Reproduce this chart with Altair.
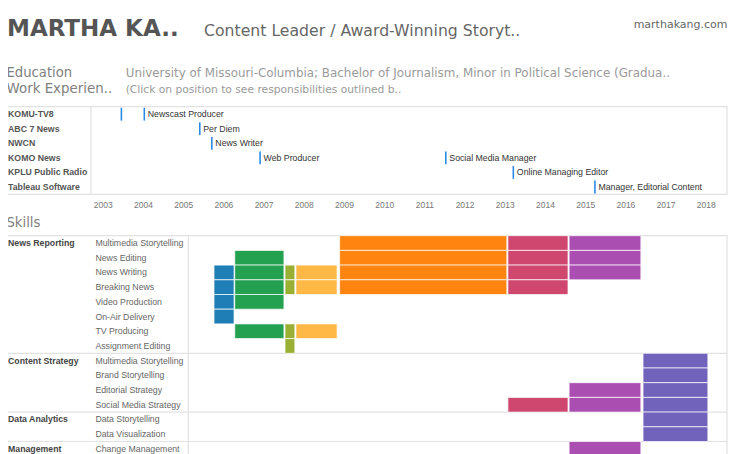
import altair as alt
import pandas as pd

# ---------------- header texts ----------------
name_text = "MARTHA KA.."
tagline_text = "Content Leader / Award-Winning Storyt.."
site_text = "marthakang.com"
education_label = "Education"
education_text = "University of Missouri-Columbia; Bachelor of Journalism, Minor in Political Science (Gradua.."
work_label = "Work Experien.."
work_text = "(Click on position to see responsibilities outlined b.."
skills_label = "Skills"

# ---------------- work experience ----------------
companies = ["KOMU-TV8", "ABC 7 News", "NWCN", "KOMO News", "KPLU Public Radio", "Tableau Software"]
job_ids = ["komu_1", "komu_2", "abc7", "nwcn", "komo_1", "komo_2", "kplu", "tableau"]
job_titles = ["", "Newscast Producer", "Per Diem", "News Writer", "Web Producer",
              "Social Media Manager", "Online Managing Editor", "Manager, Editorial Content"]
job_company = ["KOMU-TV8", "KOMU-TV8", "ABC 7 News", "NWCN", "KOMO News", "KOMO News",
               "KPLU Public Radio", "Tableau Software"]
job_start = [2003.45, 2004.02, 2005.40, 2005.70, 2006.90, 2011.52, 2013.20, 2015.23]
job_end = [2004.00, 2005.37, 2005.67, 2006.83, 2011.49, 2013.17, 2015.17, 2017.01]
job_colors = ["#1f7eb6", "#24a051", "#99b034", "#ffb845", "#ff8410", "#cf476f", "#aa4eb2", "#7163bb"]
years = list(range(2003, 2019))

# ---------------- skills ----------------
skill_category = ["News Reporting"] * 8 + ["Content Strategy"] * 4 + ["Data Analytics"] * 2 + ["Management"]
skill_name = ["Multimedia Storytelling", "News Editing", "News Writing", "Breaking News",
              "Video Production", "On-Air Delivery", "TV Producing", "Assignment Editing",
              "Multimedia Storytelling", "Brand Storytelling", "Editorial Strategy", "Social Media Strategy",
              "Data Storytelling", "Data Visualization",
              "Change Management"]
skill_jobs = [
    ["komo_1", "komo_2", "kplu"],
    ["komu_2", "komo_1", "komo_2", "kplu"],
    ["komu_1", "komu_2", "abc7", "nwcn", "komo_1", "komo_2", "kplu"],
    ["komu_1", "komu_2", "abc7", "nwcn", "komo_1", "komo_2"],
    ["komu_1", "komu_2"],
    ["komu_1"],
    ["komu_2", "abc7", "nwcn"],
    ["abc7"],
    ["tableau"],
    ["tableau"],
    ["kplu", "tableau"],
    ["komo_2", "kplu", "tableau"],
    ["tableau"],
    ["tableau"],
    ["kplu"],
]

# ---------------- tables ----------------
jobs_df = pd.DataFrame({
    "job": job_ids, "title": job_titles, "company": job_company,
    "start": job_start, "end": job_end,
})
jobs_df["row"] = jobs_df["company"].map({c: i for i, c in enumerate(companies)})
jobs_df["y0"] = jobs_df["row"] + 0.06
jobs_df["y1"] = jobs_df["row"] + 0.94
jobs_df["ym"] = jobs_df["row"] + 0.5

comp_df = pd.DataFrame({"company": companies, "ym": [i + 0.5 for i in range(len(companies))]})
years_df = pd.DataFrame({"year": years})

bars = []
for i, (cat, sk, js) in enumerate(zip(skill_category, skill_name, skill_jobs)):
    for j in js:
        k = job_ids.index(j)
        bars.append({"row": i, "row1": i + 1, "job": j, "start": job_start[k], "end": job_end[k]})
bars_df = pd.DataFrame(bars)
skills_df = pd.DataFrame({"category": skill_category, "skill": skill_name,
                          "ym": [i + 0.5 for i in range(len(skill_name))]})
skills_df["first"] = ~skills_df["category"].duplicated()
cat_df = skills_df[skills_df["first"]].copy()
cat_df["y"] = cat_df["ym"] - 0.5

# ---------------- scales (pixel ranges inside one canvas) ----------------
tl_x = alt.Scale(domain=[2002.694, 2018.615], range=[83, 723], nice=False, zero=False)
tl_y = alt.Scale(domain=[0, 6], range=[98.9, 186.3], nice=False, zero=False)
sk_x = alt.Scale(domain=[2002.736, 2017.70], range=[180, 725], nice=False, zero=False)
sk_y = alt.Scale(domain=[0, 15], range=[227.7, 448.2], nice=False, zero=False)

one = pd.DataFrame({"k": [0]})
BORDER = "#e2e2e2"
HFONT = "DejaVu Sans"
PFONT = "Liberation Sans"
RIGHT = 719.5


def label(text, x, y, size, color, font=HFONT, weight="normal", align="left", baseline="alphabetic"):
    return alt.Chart(pd.DataFrame({"t": [text]})).mark_text(
        align=align, baseline=baseline, fontSize=size, font=font, fontWeight=weight, color=color
    ).encode(text="t:N", x=alt.value(x), y=alt.value(y))


def hline(x0, x1, y):
    return alt.Chart(one).mark_rule(color=BORDER, strokeWidth=1.2).encode(
        x=alt.value(x0), x2=alt.value(x1), y=alt.value(y))


def vline(x, y0, y1):
    return alt.Chart(one).mark_rule(color=BORDER, strokeWidth=1.2).encode(
        x=alt.value(x), y=alt.value(y0), y2=alt.value(y1))


layers = [
    label(name_text, -1, 28, 23, "#555555", weight="bold"),
    label(tagline_text, 196, 28, 15.7, "#666666"),
    label(site_text, RIGHT, 20.3, 11, "#666666", align="right"),
    label(education_label, -1.5, 69.3, 13.2, "#808080"),
    label(work_label, -1.5, 85, 13.4, "#808080"),
    label(education_text, 117.7, 69.3, 11.9, "#9a9a9a"),
    label(work_text, 117.7, 85, 10.7, "#9a9a9a"),
    label(skills_label, -1.5, 219, 13.2, "#808080"),
    # timeline frame
    hline(-8, RIGHT, 98.6), hline(-8, RIGHT, 186.3), vline(83, 98.6, 186.3), vline(RIGHT - 0.5, 98.6, 186.3),
    # skills frame
    hline(-8, RIGHT, 227.7), vline(180.3, 227.7, 460), vline(RIGHT - 0.5, 227.7, 460),
]

# group separators in skills
sep_df = cat_df[cat_df["y"] > 0][["y"]]
layers.append(alt.Chart(sep_df).mark_rule(color=BORDER, strokeWidth=1.2).encode(
    y=alt.Y("y:Q", scale=sk_y, axis=None), x=alt.value(-8), x2=alt.value(RIGHT)))

# timeline content
layers.append(alt.Chart(comp_df).mark_text(
    align="left", baseline="middle", fontSize=8.75, font=PFONT, fontWeight="bold", color="#555555"
).encode(text="company:N", x=alt.value(0), y=alt.Y("ym:Q", scale=tl_y, axis=None)))

layers.append(alt.Chart(jobs_df).mark_rule(color="#2a8be6", strokeWidth=1.6).encode(
    x=alt.X("start:Q", scale=tl_x, axis=None),
    y=alt.Y("y0:Q", scale=tl_y, axis=None), y2="y1:Q"))

layers.append(alt.Chart(jobs_df).mark_text(
    align="left", baseline="middle", dx=3.5, fontSize=8.75, font=PFONT, color="#333333"
).encode(text="title:N", x=alt.X("start:Q", scale=tl_x, axis=None),
         y=alt.Y("ym:Q", scale=tl_y, axis=None)))

layers.append(alt.Chart(years_df).mark_text(
    align="center", baseline="middle", fontSize=8.5, font=PFONT, color="#777777"
).encode(text=alt.Text("year:Q", format="d"), x=alt.X("year:Q", scale=tl_x, axis=None),
         y=alt.value(197.3)))

# skills content
layers.append(alt.Chart(bars_df).mark_bar(stroke="white", strokeWidth=1, strokeOpacity=0.7).encode(
    x=alt.X("start:Q", scale=sk_x, axis=None), x2="end:Q",
    y=alt.Y("row:Q", scale=sk_y, axis=None), y2="row1:Q",
    color=alt.Color("job:N", scale=alt.Scale(domain=job_ids, range=job_colors), legend=None)))

layers.append(alt.Chart(skills_df).mark_text(
    align="left", baseline="middle", fontSize=8.75, font=PFONT, color="#666666"
).encode(text="skill:N", x=alt.value(87.4), y=alt.Y("ym:Q", scale=sk_y, axis=None)))

layers.append(alt.Chart(cat_df).mark_text(
    align="left", baseline="middle", fontSize=8.75, font=PFONT, fontWeight="bold", color="#444444"
).encode(text="category:N", x=alt.value(0), y=alt.Y("ym:Q", scale=sk_y, axis=None)))

chart = alt.layer(*layers).resolve_scale(
    x="independent", y="independent", color="independent"
).properties(
    width=720, height=460, padding=0, autosize=alt.AutoSizeParams(type="none")
).configure_view(stroke=None)

chart.save("out.html", embed_options={"renderer": "svg", "actions": False})
